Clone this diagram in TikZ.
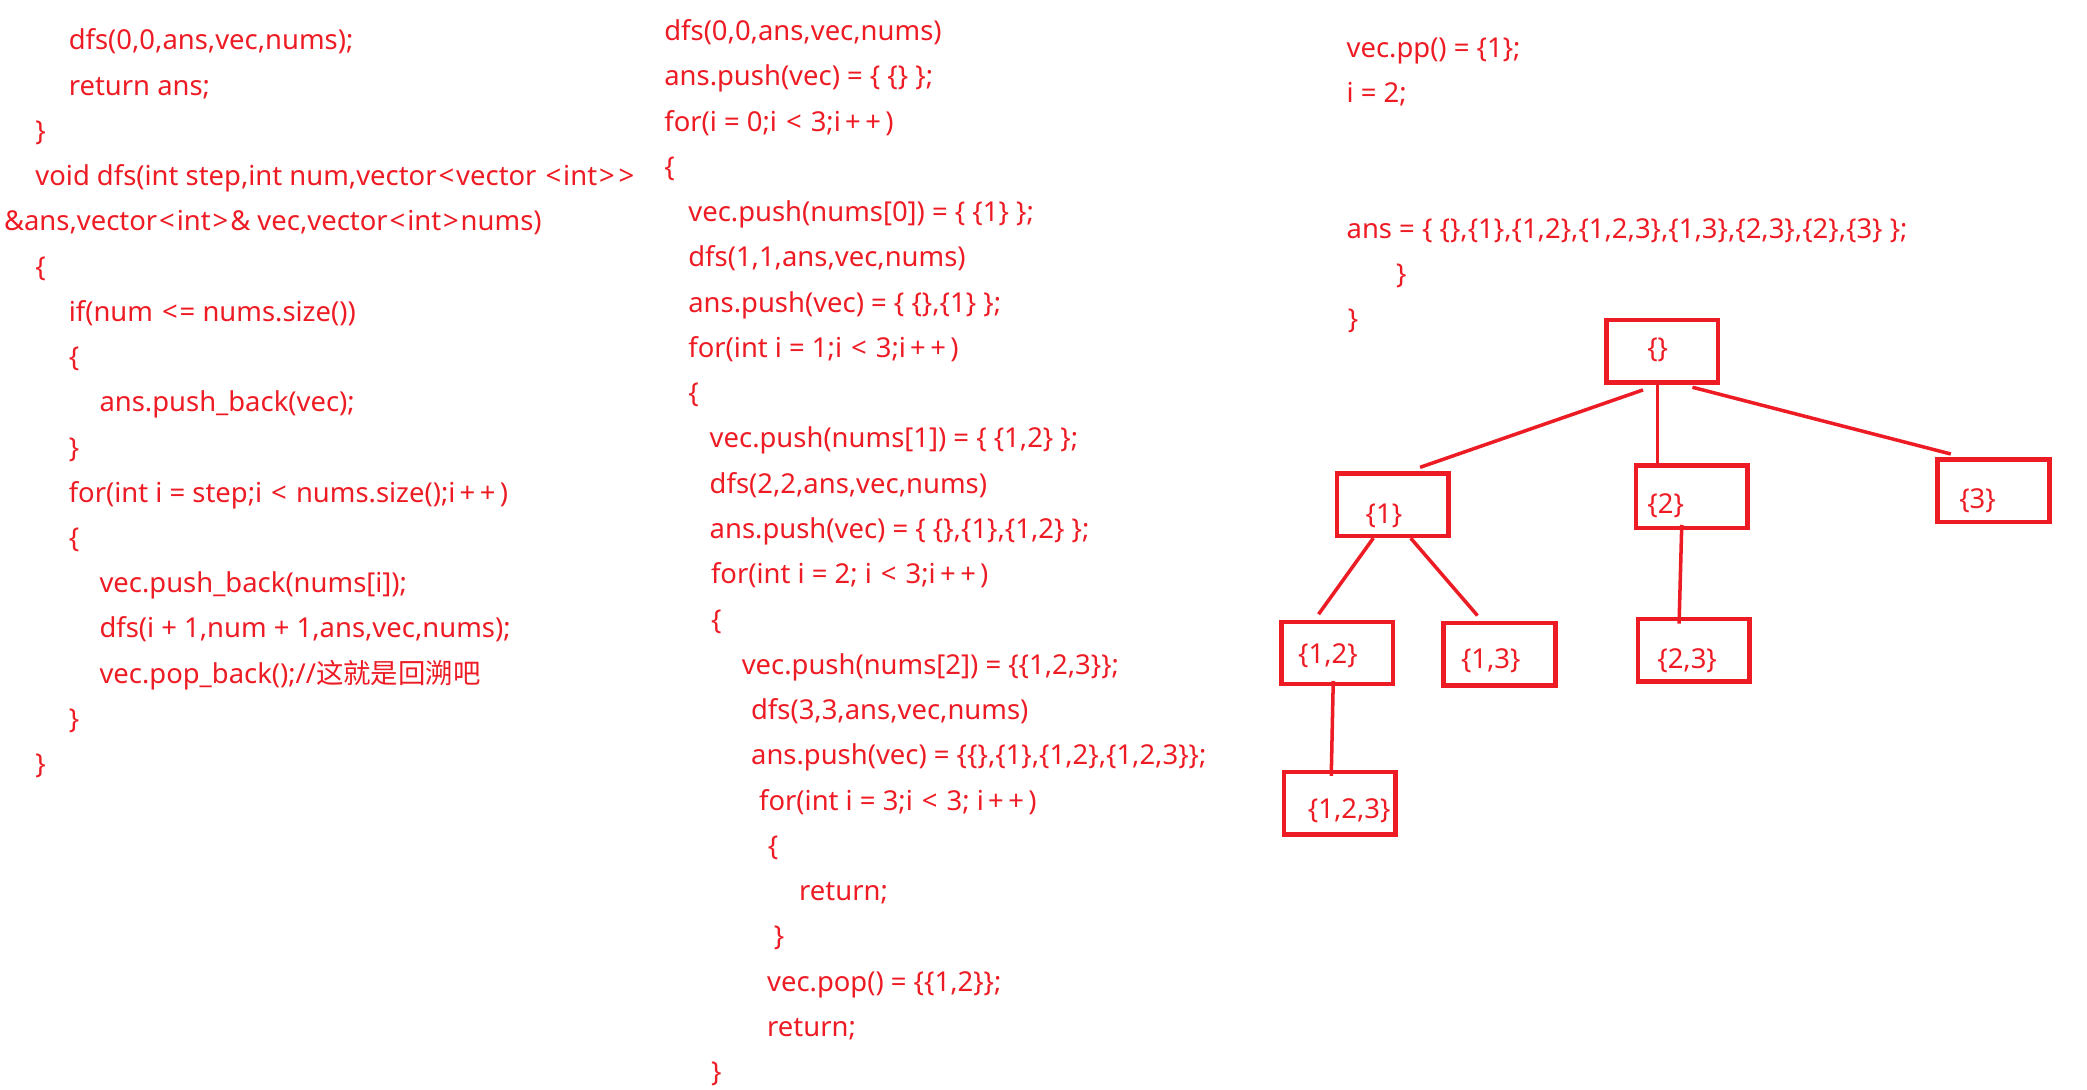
\documentclass[tikz,border=0pt]{standalone}
\usepackage{fontspec}
\setmainfont{Noto Sans}
\newfontfamily\cjk{Noto Sans CJK SC}
\usepackage{tikz}
\usepackage{xcolor}
\definecolor{paintred}{RGB}{237,28,36}
\newcommand{\ltsym}{\kern.55pt<\kern.55pt}
\newcommand{\gtsym}{\kern.55pt>\kern.55pt}
\newcommand{\incr}{\kern1.2pt+\kern1.3pt+\kern1.2pt}

\begin{document}
\begin{tikzpicture}[x=0.01335cm, y=-0.01335cm,
    code/.style={anchor=west, inner sep=0pt, text=paintred, text height=7.6pt, text depth=2pt, font=\fontsize{7.8}{9}\selectfont},
    box/.style={rectangle, draw=paintred, line width=1.3pt, minimum width=1.116cm, minimum height=0.622cm, inner sep=0pt},
    tag/.style={text=paintred, inner sep=0pt, font=\fontsize{7.8}{9}\selectfont},
    edge/.style={draw=paintred, line width=1pt}]
    \useasboundingbox (0,0) rectangle (1563,816);

    % codice a sinistra
    \node[code] (l1) at (51,30) {dfs(0,0,ans,vec,nums);};
    \node[code] (l2) at (51,63.9) {return ans;};
    \node[code] (l3) at (26,97.8) {\}};
    \node[code] (l4) at (26,131.6) {void dfs(int step,int num,vector\ltsym vector \ltsym int\gtsym\gtsym};
    \node[code] (l5) at (2.5,165.5) {\&ans,vector\ltsym int\gtsym\& vec,vector\ltsym int\gtsym nums)};
    \node[code] (l6) at (26,199.4) {\{};
    \node[code] (l7) at (51,233.3) {if(num \ltsym= nums.size())};
    \node[code] (l8) at (51,267.2) {\{};
    \node[code] (l9) at (74,301) {ans.push\_back(vec);};
    \node[code] (l10) at (51,334.9) {\}};
    \node[code] (l11) at (51,368.8) {for(int i = step;i \ltsym\ nums.size();i\incr)};
    \node[code] (l12) at (51,402.7) {\{};
    \node[code] (l13) at (74,436.6) {vec.push\_back(nums[i]);};
    \node[code] (l14) at (74,470.4) {dfs(i + 1,num + 1,ans,vec,nums);};
    \node[code] (l15) at (74,504.3) {vec.pop\_back();//{\cjk 这就是回溯吧}};
    \node[code] (l16) at (51,538.2) {\}};
    \node[code] (l17) at (26,572.1) {\}};

    % traccia al centro
    \node[code] (m1) at (497,23) {dfs(0,0,ans,vec,nums)};
    \node[code] (m2) at (497,56.9) {ans.push(vec) = \{ \{\} \};};
    \node[code] (m3) at (497,90.8) {for(i = 0;i \ltsym\ 3;i\incr)};
    \node[code] (m4) at (497,124.7) {\{};
    \node[code] (m5) at (515,158.6) {vec.push(nums[0]) = \{ \{1\} \};};
    \node[code] (m6) at (515,192.5) {dfs(1,1,ans,vec,nums)};
    \node[code] (m7) at (515,226.4) {ans.push(vec) = \{ \{\},\{1\} \};};
    \node[code] (m8) at (515,260.3) {for(int i = 1;i \ltsym\ 3;i\incr)};
    \node[code] (m9) at (515,294.2) {\{};
    \node[code] (m10) at (531,328.1) {vec.push(nums[1]) = \{ \{1,2\} \};};
    \node[code] (m11) at (531,362) {dfs(2,2,ans,vec,nums)};
    \node[code] (m12) at (531,395.9) {ans.push(vec) = \{ \{\},\{1\},\{1,2\} \};};
    \node[code] (m13) at (532,429.8) {for(int i = 2; i \ltsym\ 3;i\incr)};
    \node[code] (m14) at (532,463.7) {\{};
    \node[code] (m15) at (555,497.6) {vec.push(nums[2]) = \{\{1,2,3\}\};};
    \node[code] (m16) at (562,531.5) {dfs(3,3,ans,vec,nums)};
    \node[code] (m17) at (562,565.4) {ans.push(vec) = \{\{\},\{1\},\{1,2\},\{1,2,3\}\};};
    \node[code] (m18) at (568,599.3) {for(int i = 3;i \ltsym\ 3; i\incr)};
    \node[code] (m19) at (574.5,633.2) {\{};
    \node[code] (m20) at (598,667.1) {return;};
    \node[code] (m21) at (579,701) {\}};
    \node[code] (m22) at (574,734.9) {vec.pop() = \{\{1,2\}\};};
    \node[code] (m23) at (574,768.8) {return;};
    \node[code] (m24) at (532,802.7) {\}};

    % a destra
    \node[code] (r1) at (1008,36) {vec.pp() = \{1\};};
    \node[code] (r2) at (1008,69.5) {i = 2;};
    \node[code] (r3) at (1008,171) {ans = \{ \{\},\{1\},\{1,2\},\{1,2,3\},\{1,3\},\{2,3\},\{2\},\{3\} \};};
    \node[code] (r4) at (1045,204.8) {\}};
    \node[code] (r5) at (1009,238.5) {\}};

    % albero
    \node[box, label={[tag, name=t0, shift={(-3.5,-1)}]center:\{\}}] (root) at (1245,263) {};
    \node[box, label={[tag, name=t1, shift={(-6.5,8)}]center:\{1\}}] (n1) at (1043,378) {};
    \node[box, label={[tag, name=t2, shift={(-19.5,7)}]center:\{2\}}] (n2) at (1267,372) {};
    \node[box, label={[tag, name=t3, shift={(-12,7.5)}]center:\{3\}}] (n3) at (1493,367.5) {};
    \node[box, label={[tag, name=t12, shift={(-7,2)}]center:\{1,2\}}] (n12) at (1001.5,489) {};
    \node[box, label={[tag, name=t13, shift={(-6.5,5)}]center:\{1,3\}}] (n13) at (1123,490) {};
    \node[box, label={[tag, name=t23, shift={(-5,8)}]center:\{2,3\}}] (n23) at (1268.5,487) {};
    \node[box, label={[tag, name=t123, shift={(7,6)}]center:\{1,2,3\}}] (n123) at (1003.5,601.5) {};

    \draw[edge] ([shift={(-14.5,4)}]root.south) -- ([shift={(20.5,-3)}]n1.north);
    \draw[edge] ([shift={(-3.5,0)}]root.south) -- ([shift={(-25.5,3)}]n2.north);
    \draw[edge] ([shift={(22.5,2)}]root.south) -- ([shift={(-32,-2.5)}]n3.north);
    \draw[edge] ([shift={(-14.5,0)}]n1.south) -- ([shift={(-14,-4)}]n12.north);
    \draw[edge] ([shift={(13.5,0)}]n1.south) -- ([shift={(-16.5,-4)}]n13.north);
    \draw[edge] ([shift={(-7.5,-4)}]n2.south) -- ([shift={(-11,5)}]n23.north);
    \draw[edge] ([shift={(-3,-4)}]n12.south) -- ([shift={(-6.5,4.5)}]n123.north);
\end{tikzpicture}
\end{document}
